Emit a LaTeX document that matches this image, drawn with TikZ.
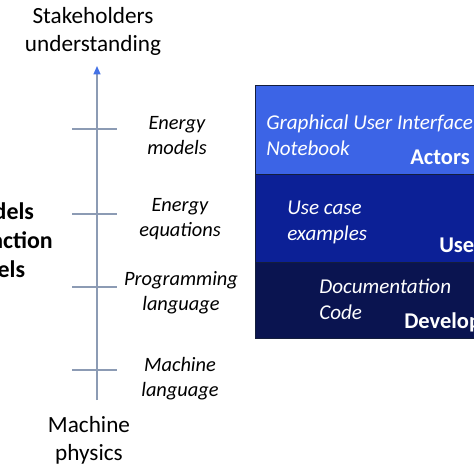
\documentclass[tikz,border=0pt]{standalone}
\usepackage{fontspec}
\setmainfont{Carlito}
\usepackage{xcolor}
\usetikzlibrary{arrows.meta}
\definecolor{axisgray}{RGB}{140,155,180}
\definecolor{tipblue}{RGB}{68,114,230}
\definecolor{layerone}{RGB}{60,100,230}
\definecolor{layertwo}{RGB}{12,32,150}
\definecolor{layerthree}{RGB}{10,20,80}
\definecolor{layerrim}{RGB}{20,30,60}

\tikzset{
  axisline/.style={axisgray, line width=1pt},
  endlabel/.style={align=center, inner sep=0pt, font=\fontsize{16.5}{20}\selectfont},
  levellabel/.style={align=center, inner sep=0pt, font=\fontsize{14.5}{17.8}\selectfont\itshape},
  boxtext/.style={align=left, anchor=west, inner sep=0pt, text=white, font=\fontsize{15}{18.5}\selectfont\itshape},
  actorname/.style={anchor=west, inner sep=0pt, text=white, font=\fontsize{16}{20}\selectfont\bfseries},
}

\begin{document}
\begin{tikzpicture}[x=0.025cm, y=-0.025cm]
      \useasboundingbox (0,0) rectangle (474,474);
      \clip (0,0) rectangle (474,474);

      % layered boxes
      \draw[layerrim, fill=layerone] (255,85) rectangle (480,174);
      \draw[layerrim, fill=layertwo] (255,174) rectangle (480,262);
      \draw[layerrim, fill=layerthree] (255,262) rectangle (480,338);

      \node[boxtext] (gui) at (266,135) {Graphical User Interface\\Notebook};
      \node[actorname] (actors) at (410,157) {Actors};
      \node[boxtext] (usecase) at (287,222) {Use case\\examples};
      \node[actorname] (users) at (439,245) {Users};
      \node[boxtext] (docs) at (319,299) {Documentation\\Code};
      \node[actorname] (devs) at (404,322) {Developers};

      % abstraction axis
      \coordinate (base) at (97,400);
      \coordinate (top) at (97,66);
      \draw[axisline, -{Triangle[length=6pt, width=5pt, color=tipblue]}] (base) -- (top);
      \foreach \y/\name in {129/t1, 214/t2, 287/t3, 370/t4} {
        \coordinate (\name l) at (72,\y);
        \coordinate (\name r) at (117,\y);
        \draw[axisline] (\name l) -- (\name r);
      }

      \node[endlabel] (stake) at (93,31) {Stakeholders\\understanding};
      \node[endlabel] (physics) at (89,440) {Machine\\physics};

      \node[levellabel] (emodels) at (177,136) {Energy\\models};
      \node[levellabel] (eeqs) at (180,219) {Energy\\equations};
      \node[levellabel] (proglang) at (181,293) {Programming\\language};
      \node[levellabel] (machlang) at (180,379) {Machine\\language};

      \node[endlabel, font=\fontsize{17}{20.6}\selectfont\bfseries] (levels) at (-3,240) {Models\\abstraction\\levels};
    \end{tikzpicture}
\end{document}
